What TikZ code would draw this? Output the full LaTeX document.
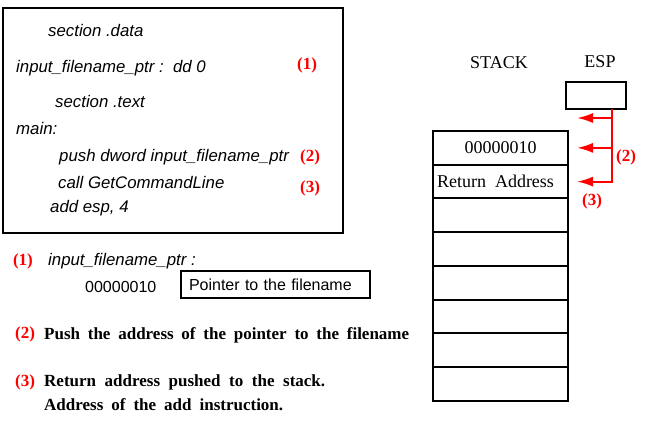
\documentclass[tikz,border=0pt]{standalone}
\usepackage{fontspec}
\setmainfont{Liberation Serif}
\newfontfamily\codefont{Liberation Sans}
\usetikzlibrary{positioning,arrows.meta}
\definecolor{markred}{rgb}{1,0,0}

\begin{document}
\begin{tikzpicture}[x=1pt, y=1pt, node distance=0pt,
	cell/.style={draw=black, line width=2pt, minimum width=135pt, minimum height=33.75pt, inner sep=0pt, outer sep=0pt, font=\fontsize{18}{20}\selectfont},
	code/.style={anchor=base west, inner sep=0pt, font=\codefont\itshape\fontsize{16.8}{18}\selectfont},
	redlabel/.style={text=markred, inner sep=0pt, font=\bfseries\fontsize{17}{19}\selectfont},
	note/.style={anchor=base west, inner sep=0pt, font=\bfseries\fontsize{17}{19}\selectfont},
	esparrow/.style={draw=markred, line width=2pt, -{Latex[length=16pt,width=10pt]}}]
			\useasboundingbox (0,0) rectangle (649,442);
			\node [draw=black, line width=2.5pt, minimum width=340pt, minimum height=225pt, inner sep=0pt] (CODE) at (173,321.5) {};
			\node [code] (SECDATA) at (48,405) {section .data};
			\node [code] (PTRDEF) at (16,369) {input\_filename\_ptr :\ \ dd 0};
			\node [redlabel] (M1) at (307,377) {(1)};
			\node [code] (SECTEXT) at (55,334) {section .text};
			\node [code] (MAIN) at (16,307) {main:};
			\node [code] (PUSH) at (59,280) {push dword input\_filename\_ptr};
			\node [redlabel] (M2) at (310,285) {(2)};
			\node [code] (CALL) at (58,253) {call GetCommandLine};
			\node [redlabel] (M3) at (310,254) {(3)};
			\node [code] (ADD) at (50,229) {add esp, 4};
			\node [inner sep=0pt, font=\fontsize{18}{20}\selectfont] (STACKLBL) at (499,379) {STACK};
			\node [inner sep=0pt, font=\fontsize{18}{20}\selectfont] (ESPLBL) at (600,380) {ESP};
			\node [draw=black, line width=2pt, minimum width=60pt, minimum height=27pt, inner sep=0pt, outer sep=0pt] (ESP) at (596,346.5) {};
			\node [cell] (C1) at (500.5,294.125) {00000010};
			\node [cell] (C2) [below =of C1] {\hspace*{-10pt}Return\ \ Address};
			\node [cell] (C3) [below =of C2] {};
			\node [cell] (C4) [below =of C3] {};
			\node [cell] (C5) [below =of C4] {};
			\node [cell] (C6) [below =of C5] {};
			\node [cell] (C7) [below =of C6] {};
			\node [cell] (C8) [below =of C7] {};
			\coordinate (TAP) at ([xshift=16pt]ESP.south);
			\coordinate (TIP1) at ([xshift=9pt,yshift=13pt]C1.north east);
			\coordinate (TIP2) at ([xshift=9pt]C1.east);
			\coordinate (TIP3) at ([xshift=9pt]C2.east);
			\draw [esparrow] (TAP) |- (TIP3);
			\draw [esparrow] (TAP |- TIP1) -- (TIP1);
			\draw [esparrow] (TAP |- TIP2) -- (TIP2);
			\node [redlabel] (E2) at (626,285) {(2)};
			\node [redlabel] (E3) at (592,241) {(3)};
			\node [redlabel] (N1) at (23,181) {(1)};
			\node [code] (PTRNAME) at (48,176) {input\_filename\_ptr :};
			\node [anchor=base west, inner sep=0pt, font=\codefont\fontsize{16}{18}\selectfont] (PTRVAL) at (85,149) {00000010};
			\node [draw=black, line width=2pt, anchor=west, inner xsep=8pt, inner ysep=0pt, text width=173pt, align=left, minimum height=27pt, font=\codefont\fontsize{16}{18}\selectfont] (PTRBOX) at (180,157.5) {Pointer to the filename};
			\node [redlabel] (N2) at (25,108) {(2)};
			\node [note] (PUSHNOTE) at (44,102) {\makebox[365pt][s]{Push the address of the pointer to the filename}};
			\node [redlabel] (N3) at (25,60) {(3)};
			\node [note] (RETNOTE) at (44,55) {\makebox[281pt][s]{Return address pushed to the stack.}};
			\node [note] (ADDNOTE) at (44,31) {\makebox[239pt][s]{Address of the add instruction.}};
\end{tikzpicture}
\end{document}
